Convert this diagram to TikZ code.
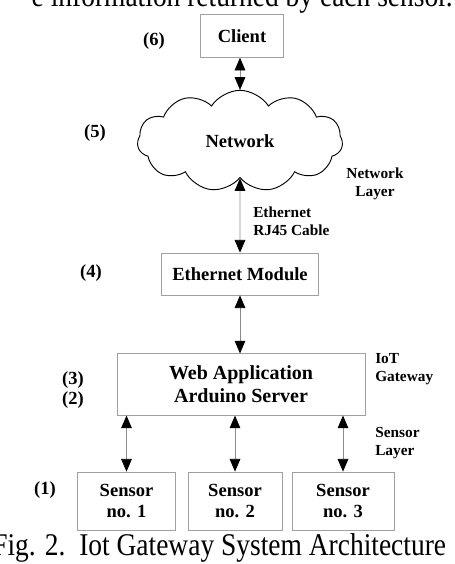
\documentclass[tikz,border=0pt]{standalone}
\usepackage{fontspec}
\setmainfont{Liberation Serif}
\usetikzlibrary{positioning,shapes.symbols,arrows.meta}
\definecolor{boxLine}{HTML}{A0A0A0}
\definecolor{linkLine}{HTML}{8C8C8C}

\tikzset{
  blk/.style={draw=boxLine, line width=0.6pt, inner sep=0pt, align=center,
    font=\fontsize{13.9}{15.5}\selectfont\bfseries},
  conn/.style={draw=linkLine, line width=0.6pt,
    {Triangle[width=8pt,length=9.5pt,color=black]}-{Triangle[width=8pt,length=9.5pt,color=black]}},
  num/.style={font=\fontsize{13.9}{15.5}\selectfont\bfseries},
  side/.style={font=\fontsize{11.5}{13.5}\selectfont\bfseries},
  capt/.style={font=\fontsize{20.6}{24}\selectfont},
}

\begin{document}
\begin{tikzpicture}[x=0.75pt, y=-0.75pt]

% --- FRAME (pixel units, origin top left) ---
\useasboundingbox (0,0) rectangle (454,564);
\clip (0,0) rectangle (454,564);

% --- SURROUNDING TEXT ---
\node[capt, anchor=base east, inner sep=0pt] (prev) at (453,7)
  {\scalebox{1}[1.15]{e information returned by each sensor.}};
\node[capt, anchor=base west, inner sep=0pt] (cap) at (-8,555)
  {\scalebox{1}[1.15]{Fig. 2.\ \ Iot Gateway System Architecture}};

% --- BLOCKS ---
\node[blk, minimum width=62pt, minimum height=32pt] (client) at (242,36) {Client};
\node[cloud, draw=black, line width=0.7pt, cloud puffs=11, cloud puff arc=115,
  cloud ignores aspect, minimum width=154pt, minimum height=76pt, inner sep=0pt,
  font=\fontsize{13.9}{15.5}\selectfont\bfseries] (net) at (240,141) {Network};
\node[blk, minimum width=118pt, minimum height=31.5pt] (eth) at (240,274) {Ethernet Module};
\node[blk, minimum width=186pt, minimum height=46pt,
  font=\fontsize{15}{17}\selectfont\bfseries] (web) at (241,384.5)
  {Web Application\\Arduino Server};
\node[blk, minimum width=74pt, minimum height=43.5pt] (s1) at (126.5,501) {Sensor\\no. 1};
\node[blk, minimum width=70.5pt, minimum height=43.5pt] (s2) at (235,501) {Sensor\\no. 2};
\node[blk, minimum width=76.5pt, minimum height=43.5pt] (s3) at (343,501) {Sensor\\no. 3};

% --- LINKS ---
\draw[conn] (client.south -| net.north) -- (net.north);
\draw[conn] (net.south) -- (eth.north);
\draw[conn] (eth.south) -- (eth.south |- web.north);
\foreach \s in {s1,s2,s3}
  \draw[conn] (web.south -| \s.north) -- (\s.north);

% --- STEP NUMBERS ---
\node[num] (n6) at (154,41) {(6)};
\node[num] (n5) at (95,133) {(5)};
\node[num] (n4) at (91,273) {(4)};
\node[num] (n3) at (73,380) {(3)};
\node[num] (n2) at (73,400) {(2)};
\node[num] (n1) at (45,490) {(1)};

% --- LAYER NOTES ---
\node[side, align=center] (netlay) at (375,184) {Network\\Layer};
\node[side, align=left, anchor=west, inner sep=0pt] (cable) at (253,221.5) {Ethernet\\RJ45 Cable};
\node[side, align=left, anchor=west, inner sep=0pt] (gw) at (375,369) {IoT\\Gateway};
\node[side, align=left, anchor=west, inner sep=0pt] (senlay) at (375,443) {Sensor\\Layer};

\end{tikzpicture}
\end{document}
